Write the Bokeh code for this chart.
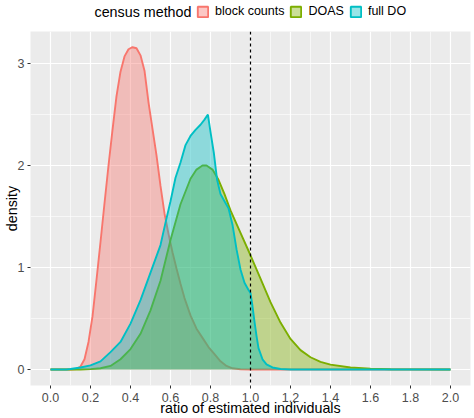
from bokeh.plotting import figure
from bokeh.layouts import column
from bokeh.models import Range1d, FixedTicker, Span, Legend, LegendItem, Label
from bokeh.embed import file_html
from bokeh.resources import INLINE

# ---------------- data ----------------
methods = ["block counts", "DOAS", "full DO"]
colors = ["#F8766D", "#7CAE00", "#00BFC4"]
legend_title = "census method"

block_x = [0.00, 0.10, 0.13, 0.15, 0.17, 0.19, 0.21, 0.23, 0.25, 0.27, 0.29, 0.31,
           0.33, 0.35, 0.37, 0.39, 0.41, 0.43, 0.45, 0.47, 0.49, 0.51, 0.53, 0.55,
           0.57, 0.59, 0.61, 0.63, 0.65, 0.67, 0.70, 0.73, 0.76, 0.79, 0.82, 0.85,
           0.88, 0.91, 0.95, 1.00, 2.00]
block_y = [0.0, 0.0, 0.005, 0.03, 0.10, 0.27, 0.52, 0.88, 1.25, 1.63, 2.00, 2.35,
           2.68, 2.92, 3.07, 3.14, 3.16, 3.15, 3.08, 2.93, 2.62, 2.36, 2.10, 1.80,
           1.53, 1.33, 1.15, 0.99, 0.84, 0.70, 0.53, 0.40, 0.31, 0.22, 0.15, 0.08,
           0.035, 0.012, 0.003, 0.0, 0.0]

doas_x = [0.00, 0.15, 0.20, 0.25, 0.30, 0.35, 0.40, 0.45, 0.50, 0.55, 0.60, 0.65,
          0.70, 0.73, 0.76, 0.78, 0.81, 0.84, 0.87, 0.90, 0.95, 1.00, 1.05, 1.10,
          1.15, 1.20, 1.25, 1.30, 1.35, 1.40, 1.50, 1.60, 1.70, 1.80, 2.00]
doas_y = [0.0, 0.0, 0.004, 0.012, 0.035, 0.10, 0.20, 0.35, 0.58, 0.87, 1.27, 1.62,
          1.87, 1.96, 2.00, 2.00, 1.96, 1.86, 1.72, 1.56, 1.34, 1.12, 0.89, 0.66,
          0.46, 0.30, 0.19, 0.12, 0.075, 0.048, 0.02, 0.008, 0.003, 0.001, 0.0]

full_x = [0.00, 0.08, 0.10, 0.15, 0.20, 0.25, 0.30, 0.35, 0.40, 0.45, 0.50, 0.55,
          0.575, 0.60, 0.625, 0.65, 0.675, 0.70, 0.725, 0.75, 0.77, 0.787, 0.80,
          0.817, 0.833, 0.85, 0.87, 0.89, 0.91, 0.93, 0.95, 0.97, 0.99, 1.00, 1.01,
          1.02, 1.03, 1.04, 1.06, 1.08, 1.11, 1.15, 1.20, 2.00]
full_y = [0.0, 0.0, 0.005, 0.02, 0.04, 0.08, 0.17, 0.27, 0.45, 0.68, 0.95, 1.22,
          1.44, 1.65, 1.88, 2.03, 2.20, 2.29, 2.35, 2.40, 2.45, 2.50, 2.33,
          2.12, 1.86, 1.72, 1.65, 1.58, 1.42, 1.18, 0.98, 0.85, 0.78, 0.75, 0.62,
          0.47, 0.33, 0.21, 0.10, 0.05, 0.02, 0.005, 0.0, 0.0]

series_x = [block_x, doas_x, full_x]
series_y = [block_y, doas_y, full_y]

x_ticks = [0.0, 0.2, 0.4, 0.6, 0.8, 1.0, 1.2, 1.4, 1.6, 1.8, 2.0]
x_tick_labels = ["0.0", "0.2", "0.4", "0.6", "0.8", "1.0", "1.2", "1.4", "1.6", "1.8", "2.0"]
x_minor = [0.1, 0.3, 0.5, 0.7, 0.9, 1.1, 1.3, 1.5, 1.7, 1.9]
y_ticks = [0, 1, 2, 3]
y_tick_labels = ["0", "1", "2", "3"]
y_minor = [0.5, 1.5, 2.5]
ref_line_x = 1.0

FONT = "Liberation Sans"
FILL_ALPHA = 0.4
LINE_W = 1.9

# ---------------- legend strip (top) ----------------
# (frame of this strip is aligned with the main panel's frame by the column layout)
lf = figure(width=474, height=31, output_backend="svg", toolbar_location=None,
            x_range=Range1d(0, 1), y_range=Range1d(0, 1),
            x_axis_location=None, y_axis_location=None, min_border=0)
lf.grid.visible = False
lf.outline_line_color = None
lf.background_fill_color = "white"
lf.border_fill_color = "white"

legend_renderers = []
for xs, ys, c in zip(series_x, series_y, colors):
    lr = lf.patch(x=xs, y=ys, fill_color=c, fill_alpha=FILL_ALPHA, line_color=c,
                  line_width=LINE_W, visible=False)
    legend_renderers.append(lr)

items = [LegendItem(label=m, renderers=[r]) for m, r in zip(methods, legend_renderers)]
legend = Legend(items=items, orientation="horizontal",
                location=(166, 13), margin=0, padding=0, spacing=5,
                glyph_width=13, glyph_height=13, label_standoff=6,
                label_height=13, label_width=10,
                border_line_color=None, background_fill_alpha=0)
legend.label_text_font = FONT
legend.label_text_font_size = "12.5px"
legend.label_text_color = "black"
lf.add_layout(legend)
lf.add_layout(Label(x=64, y=20, x_units="screen", y_units="screen",
                    text=legend_title, text_font=FONT, text_font_size="14.3px",
                    text_color="black", text_baseline="middle", text_align="left"))

# ---------------- main panel ----------------
p = figure(width=474, height=387, output_backend="svg", toolbar_location=None,
           x_range=Range1d(-0.1, 2.1), y_range=Range1d(-0.157, 3.314),
           min_border_left=0, min_border_right=4, min_border_top=0,
           min_border_bottom=0)
p.background_fill_color = "#EBEBEB"
p.border_fill_color = "white"
p.outline_line_color = None

for xs, ys, c in zip(series_x, series_y, colors):
    p.varea(x=xs, y1=[0] * len(xs), y2=ys, fill_color=c, fill_alpha=FILL_ALPHA)
    p.line(xs, ys, line_color=c, line_width=LINE_W)

p.add_layout(Span(location=ref_line_x, dimension="height", line_color="black",
                  line_width=1.2, line_dash="3 3"))

# axes
p.xaxis.ticker = FixedTicker(ticks=x_ticks, minor_ticks=x_minor)
p.yaxis.ticker = FixedTicker(ticks=y_ticks, minor_ticks=y_minor)
p.xaxis.major_label_overrides = {t: l for t, l in zip(x_ticks, x_tick_labels)}
p.yaxis.major_label_overrides = {t: l for t, l in zip(y_ticks, y_tick_labels)}
p.xaxis.axis_label = "ratio of estimated individuals"
p.yaxis.axis_label = "density"
for ax in (p.xaxis, p.yaxis):
    ax.axis_line_color = None
    ax.major_tick_in = 0
    ax.major_tick_out = 3
    ax.major_tick_line_color = "#333333"
    ax.major_tick_line_width = 1
    ax.minor_tick_line_color = None
    ax.major_label_text_font = FONT
    ax.major_label_text_font_size = "12.5px"
    ax.major_label_text_color = "#4D4D4D"
    ax.major_label_text_line_height = 1.0
    ax.axis_label_text_font = FONT
    ax.axis_label_text_font_size = "14.3px"
    ax.axis_label_text_font_style = "normal"
    ax.axis_label_text_color = "black"
    ax.axis_label_text_line_height = 1.0
p.xaxis.major_label_standoff = 3
p.xaxis.axis_label_standoff = -5
p.yaxis.major_label_standoff = 2
p.yaxis.axis_label_standoff = -5

# grid
for g in (p.xgrid, p.ygrid):
    g.grid_line_color = "white"
    g.grid_line_width = 1.2
    g.minor_grid_line_color = "white"
    g.minor_grid_line_width = 0.6

layout = column(lf, p, spacing=0)
open("out.html", "w").write(file_html(layout, INLINE))
